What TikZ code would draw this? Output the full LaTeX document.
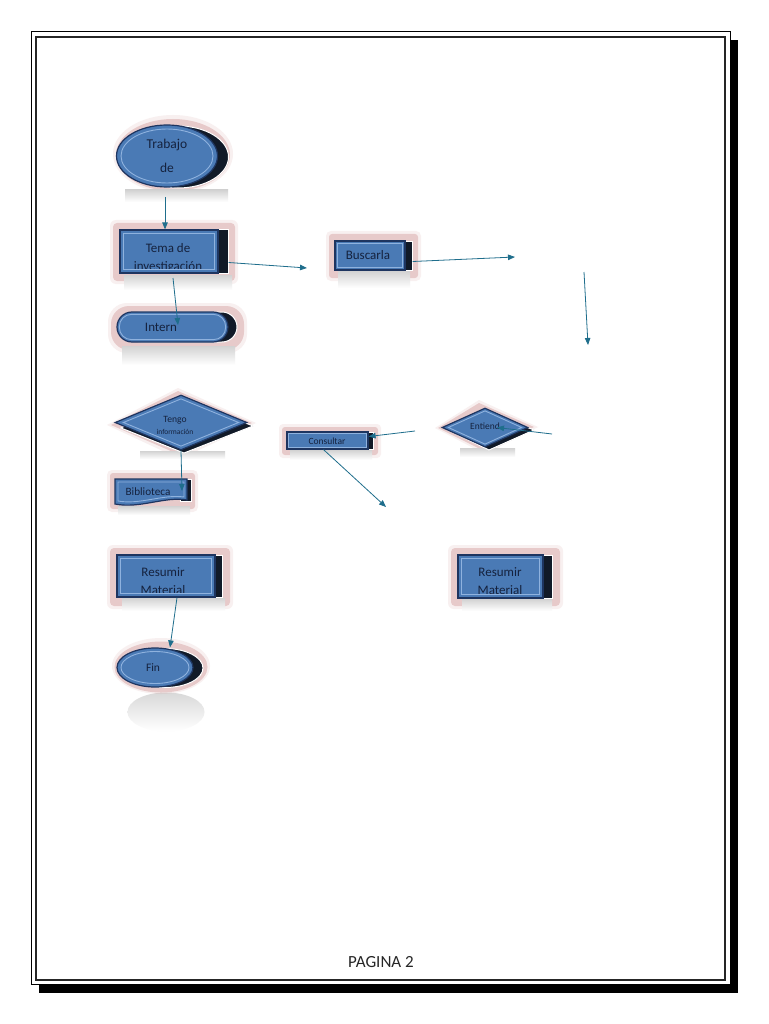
\documentclass[tikz,border=0pt]{standalone}
\usepackage{fontspec}
\setmainfont{Carlito}
\usetikzlibrary{shapes.geometric,arrows.meta}
\definecolor{bfill}{HTML}{4A7AB5}
\definecolor{bdark}{HTML}{1E3560}
\definecolor{binner}{HTML}{8FB2DE}
\definecolor{bshadow}{HTML}{111A28}
\definecolor{glowpink}{HTML}{D49C9C}
\definecolor{conncol}{HTML}{1F6E8C}
\definecolor{txtcol}{HTML}{15223E}
\newcommand{\fsz}[2]{\fontsize{#1}{#2}\selectfont}
\tikzset{
  glow/.style={fill=glowpink, draw=none, opacity=0.45},
  glowsoft/.style={fill=glowpink, draw=none, opacity=0.15},
  refl/.style={top color=gray!35, bottom color=white, draw=none},
  backsh/.style={fill=bshadow, draw=white, line width=1pt},
  front/.style={fill=bfill, draw=bdark, line width=1.2pt, inner sep=0pt},
  innerln/.style={draw=binner, line width=0.9pt},
  txt/.style={text=txtcol, align=center, inner sep=0pt},
  conn/.style={draw=conncol, line width=0.8pt, -{Triangle[length=7pt,width=5.5pt]}},
}
\begin{document}
\begin{tikzpicture}[x=1pt,y=-1pt]
\useasboundingbox (0,0) rectangle (768,1024);
% page frame
\fill[black] (39,40) rectangle (738,993);
\filldraw[fill=white, draw=black, line width=1pt] (31,32) rectangle (730,984);
\draw[line width=1.8pt, black!85] (36,37) rectangle (725,980);

% ---- Trabajo de (ellipse)
\fill[glowsoft] (173,154) ellipse (60 and 39);
\fill[glow] (173,155) ellipse (57 and 36);
\shade[refl] (125,190) rectangle (228,202);
\filldraw[backsh] (178,157) ellipse (50.5 and 31);
\node[front, ellipse, minimum width=101pt, minimum height=62pt] (trabajo) at (167,156) {};
\draw[innerln] (trabajo.center) ellipse (46 and 27);
\node[txt, font=\fsz{13.5}{16}] (trabajo-t) at (167,156) {Trabajo\\[8pt]de};

% ---- Tema de investigacion
\fill[glowsoft, rounded corners=6pt] (110,220) rectangle (238,284);
\fill[glow, rounded corners=4pt] (113,223) rectangle (235,281);
\shade[refl] (124,275) rectangle (232,290);
\filldraw[backsh] (208,230) rectangle (228,273);
\node[front, rectangle, minimum width=98pt, minimum height=43pt] (tema) at (169,251.5) {};
\draw[innerln] ([shift={(4,4)}]tema.north west) rectangle ([shift={(-4,-4)}]tema.south east);
\begin{scope}
\clip ([shift={(2,2)}]tema.north west) rectangle ([shift={(-2,-5)}]tema.south east);
\node[txt, font=\fsz{13}{15}] (tema-t) at (168,258) {Tema de\\[3pt]investigación};
\end{scope}

% ---- Intern
\fill[glowsoft, rounded corners=19pt] (108,303) rectangle (247,353);
\fill[glow, rounded corners=18pt] (111,306) rectangle (244,350);
\shade[refl] (122,346) rectangle (235,365);
\filldraw[backsh, rounded corners=15pt] (126,312) rectangle (237,342);
\node[front, rectangle, rounded corners=15pt, minimum width=111pt, minimum height=30pt] (intern) at (172.5,327) {};
\draw[innerln, rounded corners=12pt] ([shift={(3,3)}]intern.north west) rectangle ([shift={(-3,-3)}]intern.south east);
\node[txt, font=\fsz{13}{15}] (intern-t) at (161,327) {Intern};

% ---- Buscarla
\fill[glowsoft, rounded corners=5pt] (326,231) rectangle (421,281);
\fill[glow, rounded corners=3pt] (329,234) rectangle (418,278);
\shade[refl] (338,271) rectangle (410,288);
\filldraw[backsh] (400,241) rectangle (412,270);
\node[front, rectangle, minimum width=70pt, minimum height=29pt] (buscarla) at (370,255.5) {};
\draw[innerln] ([shift={(3,3)}]buscarla.north west) rectangle ([shift={(-3,-3)}]buscarla.south east);
\node[txt, font=\fsz{13}{15}] (buscarla-t) at (368,255) {Buscarla};

% ---- Tengo informacion (diamond)
\fill[glowsoft] (107,425) -- (178,388) -- (256,423) -- (180,459) -- cycle;
\fill[glow] (111,425) -- (178,391) -- (252,423) -- (180,455) -- cycle;
\shade[refl] (140,451) rectangle (225,459);
\filldraw[backsh] (121,428) -- (184,398) -- (253,426) -- (184,453) -- cycle;
\node[front, diamond, minimum width=132pt, minimum height=55pt] (tengo) at (181,422.5) {};
\draw[innerln] ([xshift=9pt]tengo.west) -- ([yshift=-4.5pt]tengo.north) -- ([xshift=-9pt]tengo.east) -- ([yshift=4.5pt]tengo.south) -- cycle;
\node[txt, font=\fsz{9.6}{11}] (tengo-t) at (175,420) {Tengo};
\node[txt, font=\fsz{7.5}{9}] (tengo-t2) at (175,432) {información};

% ---- Biblioteca (document)
\fill[glowsoft, rounded corners=5pt] (107,470) rectangle (198,512);
\fill[glow, rounded corners=3pt] (110,473) rectangle (195,509);
\shade[refl] (118,506) rectangle (190,515);
\filldraw[backsh] (180,479) rectangle (191,501);
\filldraw[fill=bfill, draw=bdark, line width=1.2pt] (115,479) -- (187,479) -- (187,500) .. controls (165,496) and (140,509) .. (115,504) -- cycle;
\draw[innerln] (118,482) -- (184,482) -- (184,497) .. controls (163,494) and (140,505) .. (118,501) -- cycle;
\node[txt, font=\fsz{11.2}{13}] (biblioteca) at (148,492) {Biblioteca};

% ---- Consultar
\fill[glowsoft, rounded corners=4pt] (279,424) rectangle (381,458);
\fill[glow, rounded corners=3pt] (282,427) rectangle (378,455);
\shade[refl] (290,450) rectangle (372,460);
\filldraw[backsh] (362,432) rectangle (373,449);
\node[front, rectangle, minimum width=81pt, minimum height=17pt] (consultar) at (327.5,440.5) {};
\draw[innerln] ([shift={(2.5,2.5)}]consultar.north west) rectangle ([shift={(-2.5,-2.5)}]consultar.south east);
\node[txt, font=\fsz{9.5}{11}] (consultar-t) at (327,441) {Consultar};

% ---- Entiend (diamond)
\fill[glowsoft] (435,428) -- (479,400) -- (538,427) -- (485,454) -- cycle;
\fill[glow] (438,428) -- (479,403) -- (534,427) -- (484,451) -- cycle;
\shade[refl] (460,448) rectangle (515,457);
\filldraw[backsh] (448,430) -- (484,411) -- (534,430) -- (489,450) -- cycle;
\node[front, diamond, minimum width=86pt, minimum height=39pt] (entiend) at (485,427.5) {};
\draw[innerln] ([xshift=7pt]entiend.west) -- ([yshift=-3.5pt]entiend.north) -- ([xshift=-7pt]entiend.east) -- ([yshift=3.5pt]entiend.south) -- cycle;
\node[txt, font=\fsz{9.5}{11}] (entiend-t) at (485,426) {Entiend};

% ---- Resumir Material (left)
\fill[glowsoft, rounded corners=6pt] (107,545) rectangle (233,609);
\fill[glow, rounded corners=4pt] (110,548) rectangle (230,606);
\shade[refl] (122,598) rectangle (225,611);
\filldraw[backsh] (205,555) rectangle (222,597);
\node[front, rectangle, minimum width=98pt, minimum height=42pt] (resumir1) at (166,576) {};
\draw[innerln] ([shift={(4,4)}]resumir1.north west) rectangle ([shift={(-4,-4)}]resumir1.south east);
\begin{scope}
\clip ([shift={(2,2)}]resumir1.north west) rectangle ([shift={(-2,-5)}]resumir1.south east);
\node[txt, font=\fsz{13}{15}] (resumir1-t) at (163,581) {Resumir\\[3pt]Material};
\end{scope}

% ---- Resumir Material (right)
\fill[glowsoft, rounded corners=6pt] (448,545) rectangle (563,609);
\fill[glow, rounded corners=4pt] (451,548) rectangle (560,606);
\shade[refl] (462,599) rectangle (552,611);
\filldraw[backsh] (535,555) rectangle (552,598);
\node[front, rectangle, minimum width=85pt, minimum height=43pt] (resumir2) at (500.5,576.5) {};
\draw[innerln] ([shift={(4,4)}]resumir2.north west) rectangle ([shift={(-4,-4)}]resumir2.south east);
\begin{scope}
\clip ([shift={(2,2)}]resumir2.north west) rectangle ([shift={(-2,-5)}]resumir2.south east);
\node[txt, font=\fsz{13}{15}] (resumir2-t) at (500,581) {Resumir\\[3pt]Material};
\end{scope}

% ---- Fin (ellipse)
\shade[top color=gray!30, bottom color=white] (166,712) ellipse (38.5 and 19.5);
\fill[glowsoft] (161,666) ellipse (49 and 28);
\fill[glow] (161,667) ellipse (46.5 and 25.5);
\filldraw[backsh] (165,668) ellipse (38 and 19.5);
\node[front, ellipse, minimum width=76pt, minimum height=39pt] (fin) at (155,667.5) {};
\draw[innerln] (fin.center) ellipse (34 and 16);
\node[txt, font=\fsz{11.5}{13}] (fin-t) at (153,668) {Fin};

% ---- connectors
\coordinate (c1) at (165,197);
\coordinate (c2) at (307,268);
\coordinate (c3) at (173,278);
\coordinate (c4) at (515,257);
\coordinate (c5s) at (584,272);
\coordinate (c5e) at (588,345);
\coordinate (c6) at (415,431);
\coordinate (c7) at (386,507);
\coordinate (c8) at (552,434);
\draw[conn] (c1) -- (c1 |- tema.north);
\draw[conn] ([xshift=10pt,yshift=-11pt]tema.east) -- (c2);
\draw[conn] (c3) -- ([xshift=5.5pt,yshift=2pt]intern.center);
\draw[conn] ([xshift=7pt,yshift=-6pt]buscarla.east) -- (c4);
\draw[conn] (c5s) -- (c5e);
\draw[conn] (c6) -- ([yshift=4pt]consultar.east);
\draw[conn] ([xshift=-4pt]consultar.south) -- (c7);
\draw[conn] (c8) -- ([xshift=12pt]entiend.center);
\draw[conn] (tengo.south) -- ([xshift=34pt,yshift=1pt]biblioteca.center);
\draw[conn] ([xshift=11pt]resumir1.south) -- ([xshift=15pt]fin.north);

% ---- footer
\node[font=\fsz{17}{20}, text=black!85, inner sep=0pt] (pagina) at (381,962) {PAGINA 2};
\end{tikzpicture}
\end{document}
